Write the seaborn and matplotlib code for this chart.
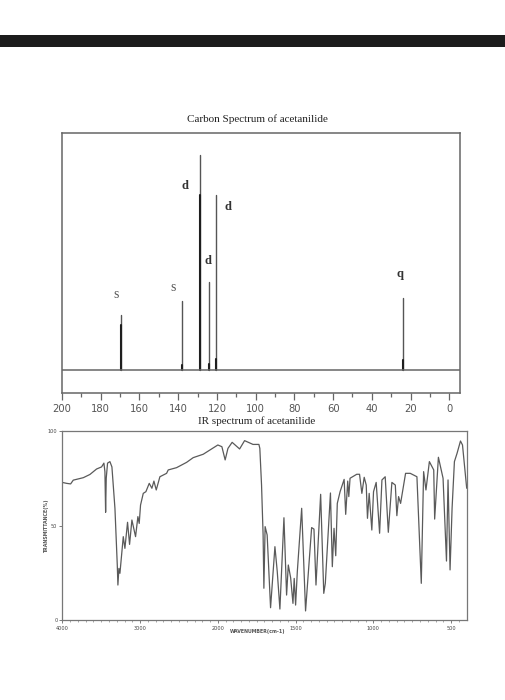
import numpy as np
import pandas as pd
import matplotlib
matplotlib.use("Agg")
import matplotlib.pyplot as plt
from matplotlib.patches import Rectangle
from matplotlib.ticker import FixedLocator, FixedFormatter, NullFormatter
import seaborn as sns

# 13C spectrum
peak_ppm = [169.5, 138.2, 128.7, 124.2, 120.3, 24.0]
peak_height = [25.6, 32.2, 100.0, 41.0, 81.4, 33.5]
strong_height = [20.9, 2.5, 81.4, 3.0, 5.0, 4.6]
label_text = ["s", "s", "d", "d", "d", "q"]
label_ppm = [172.0, 142.6, 136.4, 124.6, 114.2, 25.5]
label_height = [35.0, 38.6, 85.5, 50.7, 75.9, 44.6]
ppm_ticks = [200, 180, 160, 140, 120, 100, 80, 60, 40, 20, 0]

# IR spectrum
wavenumber = [4000, 3944, 3893, 3859, 3730, 3645, 3559, 3495, 3465, 3452, 3443, 3435, 3418, 3388, 3362, 3323, 3293, 3285,
              3272, 3259, 3242, 3216, 3195, 3161, 3135, 3105, 3058, 3028, 3011, 2994, 2959, 2925, 2882, 2848, 2822, 2792,
              2745, 2659, 2638, 2531, 2402, 2317, 2188, 2081, 2000, 1974, 1953, 1935, 1908, 1860, 1828, 1774, 1736, 1730,
              1719, 1709, 1704, 1696, 1683, 1661, 1633, 1618, 1601, 1575, 1558, 1547, 1532, 1517, 1509, 1500, 1489, 1461,
              1436, 1397, 1382, 1369, 1339, 1319, 1309, 1276, 1264, 1253, 1242, 1232, 1214, 1188, 1178, 1165, 1158, 1150,
              1107, 1089, 1074, 1059, 1046, 1038, 1027, 1010, 999, 982, 960, 945, 924, 904, 881, 859, 849, 838, 825, 793,
              763, 720, 692, 677, 662, 640, 612, 606, 582, 552, 530, 520, 507, 494, 479, 462, 440, 427, 400]
transmittance = [72.8, 72.3, 72.0, 74.0, 75.3, 77.0, 79.9, 81.0, 83.0, 78.5, 57.0, 75.0, 83.0, 83.8, 81.0, 59.0, 29.0, 18.5,
                 27.3, 24.7, 32.6, 44.1, 37.9, 51.7, 40.0, 52.9, 44.1, 54.7, 51.1, 60.8, 67.0, 67.9, 72.3, 69.7, 73.5, 68.8,
                 75.8, 77.6, 79.4, 80.6, 83.4, 85.9, 87.7, 90.5, 92.6, 91.7, 84.7, 90.8, 94.0, 90.5, 94.9, 92.9, 92.9, 90.8,
                 71.4, 45.0, 16.8, 49.4, 45.0, 6.5, 38.8, 25.6, 5.8, 54.1, 13.2, 29.1, 22.4, 8.8, 22.0, 7.9, 25.6, 59.1,
                 4.8, 48.9, 48.1, 18.5, 66.5, 14.1, 19.4, 67.2, 28.2, 48.5, 34.0, 61.7, 67.9, 74.4, 55.9, 73.5, 65.3, 75.0,
                 77.1, 77.1, 67.0, 75.5, 71.4, 53.8, 67.0, 47.6, 67.9, 72.8, 45.9, 74.1, 75.8, 46.4, 72.8, 71.4, 55.2, 65.3, 61.7, 77.6,
                 77.6, 75.8, 19.4, 78.5, 68.8, 83.8, 79.4, 53.4, 86.1, 75.0, 31.2, 74.1, 26.5, 59.1, 83.8, 88.2, 94.7, 92.6, 69.7]
ir_ticks = [4000, 3000, 2000, 1500, 1000, 500]
ir_yticks = [0, 50, 100]

sns.set_theme(style="white")
plt.rcParams["font.family"] = ["DejaVu Sans"]
W, H = 505, 700
fig = plt.figure(figsize=(W / 100, H / 100), dpi=100, facecolor="white")


def axes_px(l, t, r, b):
    return fig.add_axes([l / W, 1 - b / H, (r - l) / W, (b - t) / H])


fig.add_artist(Rectangle((0, 1 - 47 / H), 1, 11.5 / H, transform=fig.transFigure, color="#1c1c1c", lw=0))

# --- carbon spectrum
ax = axes_px(62, 133.5, 459.5, 393)
GREY = "#666666"


def stems(heights, color, lw):
    df = pd.DataFrame({
        "ppm": np.repeat(peak_ppm, 2),
        "h": np.ravel(np.column_stack([np.zeros(len(heights)), heights])),
        "peak": np.repeat(np.arange(len(heights)), 2),
    })
    sns.lineplot(data=df, x="ppm", y="h", units="peak", estimator=None, sort=False,
                 color=color, lw=lw, ax=ax, legend=False)


stems(peak_height, "#555555", 1.0)
stems(strong_height, "#1e1e1e", 1.5)
ax.axhline(0, color=GREY, lw=1.1)
ax.set_xlim(200, -5.3)
ax.set_ylim(-10.7, 110)
ax.set_xticks(ppm_ticks)
ax.xaxis.set_minor_locator(FixedLocator(list(range(190, 0, -20))))
ax.set_yticks([])
ax.set_xlabel("")
ax.set_ylabel("")
ax.tick_params(axis="x", which="major", bottom=True, length=5, width=0.9, color=GREY,
               labelsize=7.2, labelcolor="#555555", pad=3)
ax.tick_params(axis="x", which="minor", bottom=True, length=3, width=0.9, color=GREY)
for s in ax.spines.values():
    s.set_color(GREY)
    s.set_linewidth(1.1)
for t, x, y in zip(label_text, label_ppm, label_height):
    ax.text(x, y, t, family="Liberation Serif", fontsize=9 if t in "dq" else 10,
            fontweight="bold" if t in "dq" else "normal",
            color="#333333" if t in "dq" else "#555555", ha="center", va="center")

fig.text(257 / W, 1 - 119 / H, "Carbon Spectrum of acetanilide", family="Liberation Serif",
         fontsize=8.0, color="#222222", ha="center", va="center")
fig.text(257 / W, 1 - 421 / H, "IR spectrum of acetanilide", family="Liberation Serif",
         fontsize=8.0, color="#222222", ha="center", va="center")

# --- IR spectrum: the chart paper doubles its scale below 2000 cm-1
ax2 = axes_px(62.3, 431, 466.7, 620)


def fwd(w):
    w = np.asarray(w, dtype=float)
    return np.where(w <= 2000, 2 * w, w + 2000)


def inv(v):
    v = np.asarray(v, dtype=float)
    return np.where(v <= 4000, v / 2, v - 2000)


ax2.set_xscale("function", functions=(fwd, inv))
ir = pd.DataFrame({"wavenumber": wavenumber, "transmittance": transmittance})
sns.lineplot(data=ir, x="wavenumber", y="transmittance", estimator=None, sort=False,
             color="#5a5a5a", lw=0.9, ax=ax2, legend=False)
ax2.set_xlim(4000, 400)
ax2.set_ylim(0, 100)
ax2.xaxis.set_major_locator(FixedLocator(ir_ticks))
ax2.xaxis.set_major_formatter(FixedFormatter([str(t) for t in ir_ticks]))
ax2.xaxis.set_minor_locator(FixedLocator(list(range(4000, 2000, -100)) + list(range(2000, 400, -50))))
ax2.xaxis.set_minor_formatter(NullFormatter())
ax2.set_yticks(ir_yticks)
ax2.set_xlabel("")
ax2.set_ylabel("")
ax2.tick_params(axis="x", which="major", bottom=True, length=2.5, width=0.6, color=GREY,
                labelsize=3.6, labelcolor="#444444", pad=1.5)
ax2.tick_params(axis="x", which="minor", bottom=True, length=1.2, width=0.4, color=GREY)
ax2.tick_params(axis="y", left=True, length=2, width=0.6, color=GREY,
                labelsize=3.6, labelcolor="#444444", pad=1.5)
for s in ax2.spines.values():
    s.set_color("#777777")
    s.set_linewidth(0.9)
fig.text(258 / W, 1 - 632 / H, "WAVENUMBER(cm-1)", fontsize=3.4, fontweight="bold", color="#555555",
         ha="center", va="center")
fig.text(47 / W, 1 - 526 / H, "TRANSMITTANCE(%)", fontsize=3.4, fontweight="bold", color="#555555",
         rotation=90, ha="center", va="center")

fig.savefig("out.png", dpi=100)
